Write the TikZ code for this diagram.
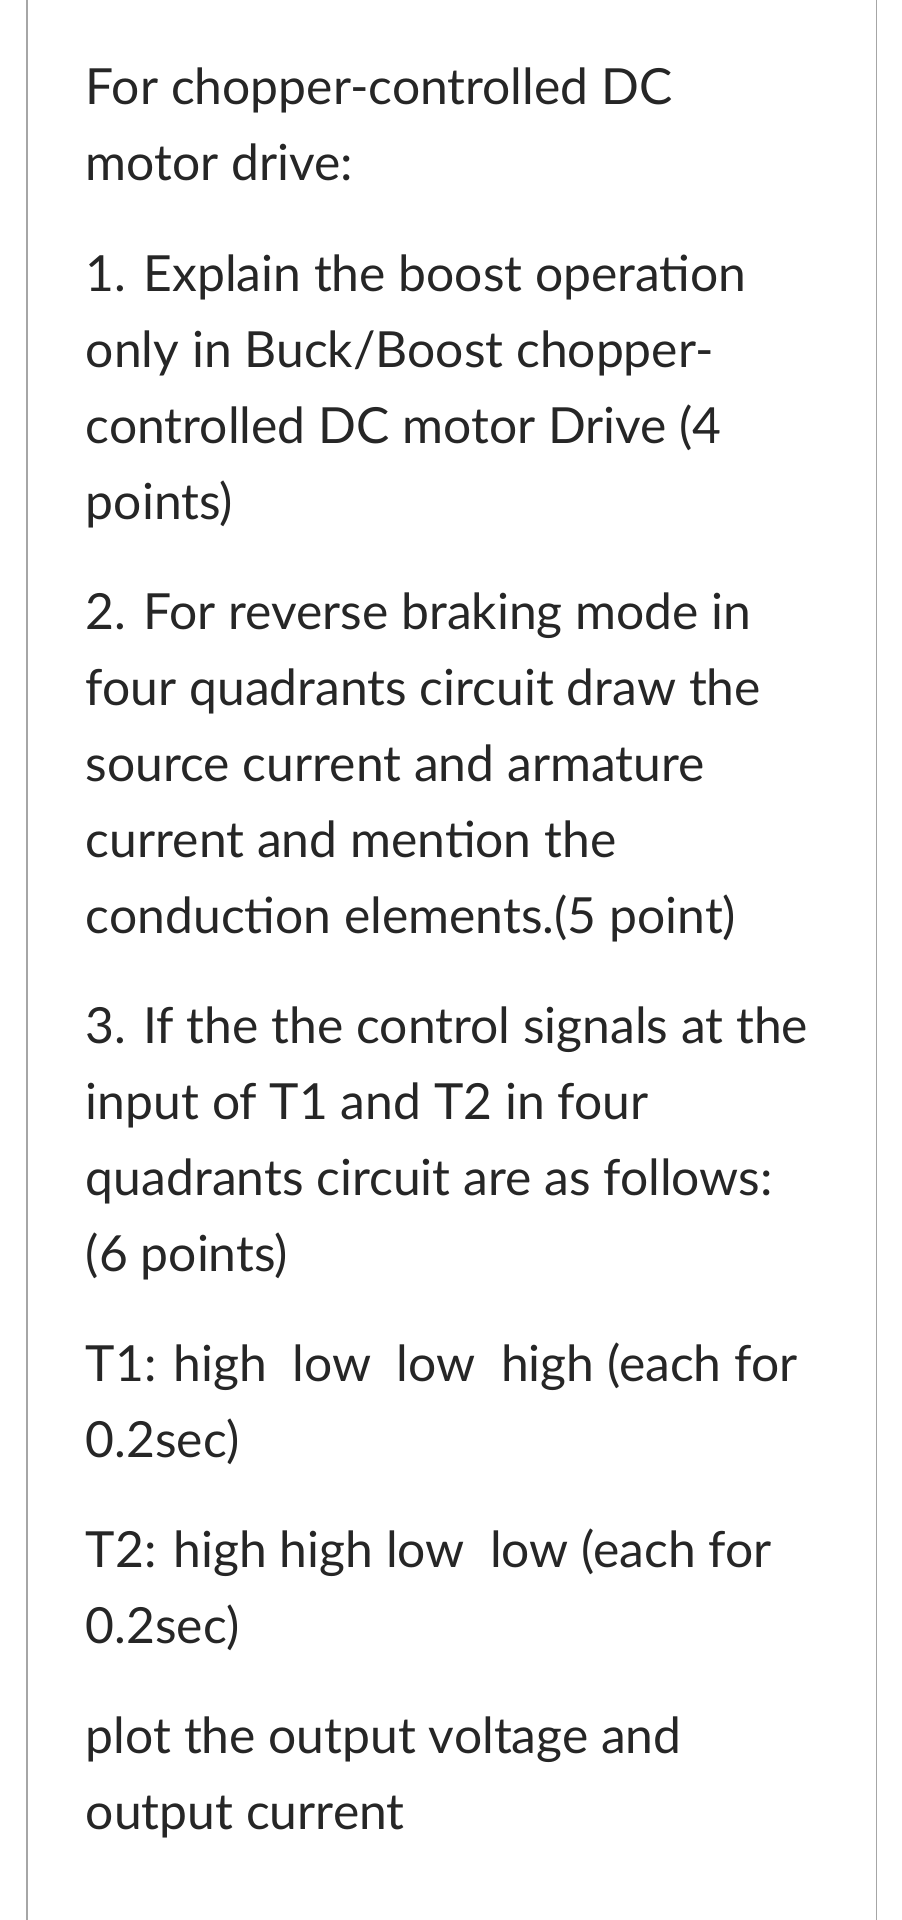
\documentclass[tikz,border=0pt]{standalone}
\usepackage{fontspec}
\setmainfont{Lato}
\begin{document}
\begin{tikzpicture}[x=1.2245pt,y=-1.2245pt,
  ln/.style={anchor=mid west,inner sep=0pt,font=\fontsize{49.8}{60}\selectfont,text=black!85},
  rule/.style={draw=black!35,line width=1.2pt}]
\useasboundingbox (0,0) rectangle (736.6,1568);
\coordinate (tl) at (22,0); \coordinate (bl) at (22,1568);
\coordinate (tr) at (716,0); \coordinate (br) at (716,1568);
\draw[rule] (tl) -- (bl);
\draw[rule] (tr) -- (br);
\foreach \y/\t [count=\i] in {
 75/{For chopper-controlled DC},
 137/{motor drive:},
 228/{1. Explain the boost operation},
 290/{only in Buck/Boost chopper-},
 352/{controlled DC motor Drive (4},
 414/{points)},
 504/{2. For reverse braking mode in},
 566/{four quadrants circuit draw the},
 628/{source current and armature},
 690/{current and mention the},
 752/{conduction elements.(5 point)},
 842/{3. If the the control signals at the},
 904/{input of T1 and T2 in four},
 966/{quadrants circuit are as follows:},
 1028/{(6 points)},
 1118/{T1: high\ \ low\ \ low\ \ high (each for},
 1180/{0.2sec)},
 1270/{T2: high high low\ \ low (each for},
 1332/{0.2sec)},
 1422/{plot the output voltage and},
 1484/{output current}}
 \node[ln] (l\i) at (70,\y+8) {\t};
\end{tikzpicture}
\end{document}
